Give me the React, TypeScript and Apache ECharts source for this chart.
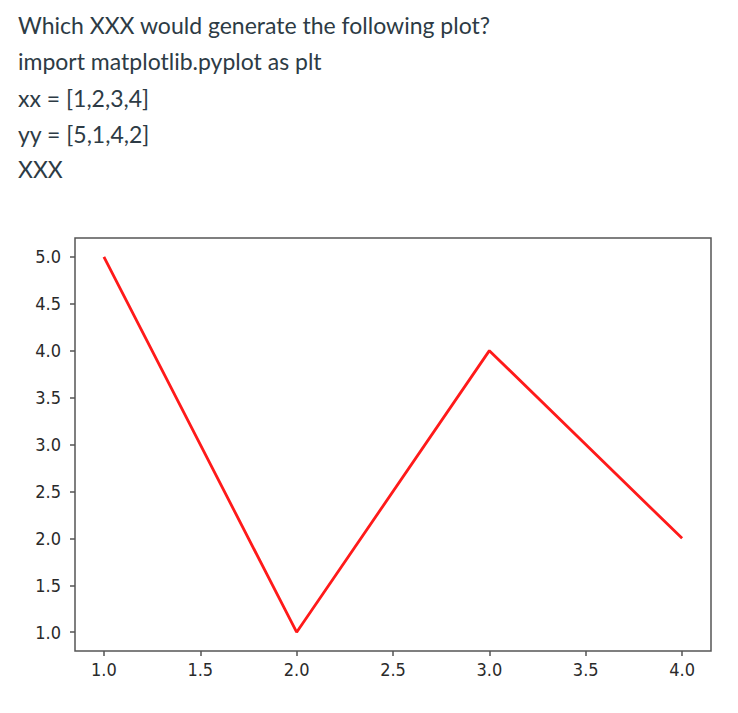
import React, { useEffect, useRef } from "react";
import * as echarts from "echarts";

const questionLines = [
  "Which XXX would generate the following plot?",
  "import matplotlib.pyplot as plt",
  "xx = [1,2,3,4]",
  "yy = [5,1,4,2]",
  "XXX",
];
const xx = [1, 2, 3, 4];
const yy = [5, 1, 4, 2];
const xTicks = [1.0, 1.5, 2.0, 2.5, 3.0, 3.5, 4.0];
const yTicks = [1.0, 1.5, 2.0, 2.5, 3.0, 3.5, 4.0, 4.5, 5.0];

export default function App() {
  const ref = useRef<HTMLDivElement>(null);
  useEffect(() => {
    document.body.style.margin = "0";
    const chart = echarts.init(ref.current!, undefined, { renderer: "svg" });
    const lineYs = [26, 62, 99, 135, 170];
    const labelStyle = {
      fontFamily: "DejaVu Sans Condensed, DejaVu Sans",
      fontSize: 18,
      color: "#2a2a2a",
    };
    chart.setOption({
      animation: false,
      backgroundColor: "#fff",
      graphic: questionLines.map((t, i) => ({
        type: "text",
        left: 18,
        top: lineYs[i] - 13,
        style: {
          text: t,
          fontFamily: "Lato",
          fontSize: 23,
          fill: "#2d3b45",
        },
      })),
      grid: {
        left: 75,
        right: 27,
        top: 238,
        bottom: 62,
        show: true,
        borderColor: "#555",
        borderWidth: 1.5,
        backgroundColor: "transparent",
      },
      xAxis: {
        type: "value",
        min: 0.85,
        max: 4.15,
        splitLine: { show: false },
        axisLine: { show: false },
        axisTick: {
          show: true,
          length: 5,
          lineStyle: { color: "#555", width: 1.5 },
          customValues: xTicks,
        },
        axisLabel: {
          ...labelStyle,
          margin: 9,
          customValues: xTicks,
          formatter: (v: number) => v.toFixed(1),
        },
      },
      yAxis: {
        type: "value",
        min: 0.8,
        max: 5.2,
        splitLine: { show: false },
        axisLine: { show: false },
        axisTick: {
          show: true,
          length: 5,
          lineStyle: { color: "#555", width: 1.5 },
          customValues: yTicks,
        },
        axisLabel: {
          ...labelStyle,
          margin: 14,
          customValues: yTicks,
          formatter: (v: number) => v.toFixed(1),
        },
      },
      series: [
        {
          type: "line",
          data: xx.map((x, i) => [x, yy[i]]),
          showSymbol: false,
          symbol: "none",
          lineStyle: { color: "#ff1a1a", width: 2.8 },
        },
      ],
    });
    return () => chart.dispose();
  }, []);
  return (
    <div
      ref={ref}
      style={{ position: "absolute", left: 0, top: 0, width: 738, height: 713 }}
    />
  );
}
